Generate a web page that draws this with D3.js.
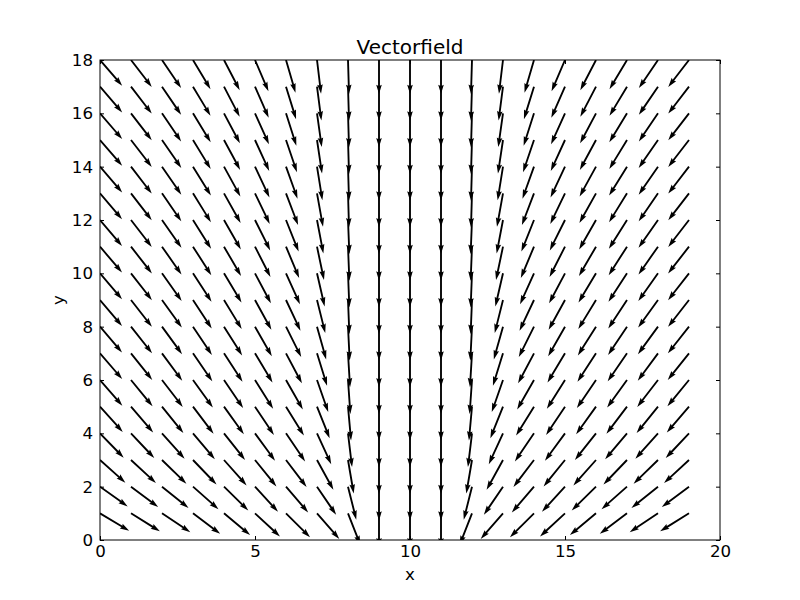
<!DOCTYPE html>
<html>
<head>
<meta charset="utf-8">
<script src="https://cdn.jsdelivr.net/npm/d3@7"></script>
<style>
  html, body { margin: 0; padding: 0; background: #ffffff; }
  svg { display: block; }
  text { font-family: "DejaVu Sans", sans-serif; fill: #000; }
</style>
</head>
<body>
<svg id="chart" width="800" height="600"></svg>
<script>
// ---------------- data ----------------
const chartTitle = "Vectorfield";
const xLabel = "x";
const yLabel = "y";
const xTicks = [0, 5, 10, 15, 20];
const yTicks = [0, 2, 4, 6, 8, 10, 12, 14, 16, 18];

// grid of arrow tails
const gridX = [0,1,2,3,4,5,6,7,8,9,10,11,12,13,14,15,16,17,18,19];
const gridY = [18,17,16,15,14,13,12,11,10,9,8,7,6,5,4,3,2,1];

// direction of every arrow: horizontal / downward ratio (dx/dy), one list per column,
// entries follow gridY (y = 18 ... 1). Positive = pointing right, negative = left.
const slopeCol0  = [.86,.86,.86,.86,.86,.85,.85,.85,.85,.85,.85,.86,.87,.90,.97,1.12,1.40,1.67];
const slopeCol1  = [.77,.77,.77,.77,.77,.77,.77,.78,.78,.78,.79,.80,.82,.86,.94,1.08,1.33,1.61];
const slopeCol2  = [.68,.68,.68,.69,.69,.69,.70,.70,.71,.72,.73,.74,.77,.81,.89,1.03,1.25,1.50];
const slopeCol3  = [.60,.60,.61,.61,.62,.62,.63,.64,.65,.66,.67,.69,.72,.76,.84,.96,1.13,1.33];
const slopeCol4  = [.52,.52,.53,.54,.55,.56,.57,.58,.60,.61,.63,.65,.68,.72,.79,.89,1.02,1.20];
const slopeCol5  = [.43,.44,.45,.46,.47,.48,.50,.51,.53,.55,.57,.60,.63,.67,.73,.81,.92,1.08];
const slopeCol6  = [.29,.31,.32,.34,.36,.38,.40,.42,.45,.47,.50,.53,.57,.62,.68,.76,.86,1.00];
const slopeCol7  = [.12,.13,.14,.15,.16,.18,.19,.21,.23,.25,.28,.31,.35,.40,.46,.55,.68,.87];
const slopeCol8  = [.03,.03,.03,.03,.03,.03,.04,.04,.04,.04,.05,.06,.07,.09,.12,.17,.25,.39];
const slopeCol9  = [0,0,0,0,0,0,0,0,0,0,0,0,0,0,0,0,0,0];
const slopeCol10 = [0,0,0,0,0,0,0,0,0,0,0,0,0,0,0,0,0,0];
const slopeCol11 = [0,0,0,0,0,0,0,0,0,0,0,0,0,0,0,0,0,0];
const slopeCol12 = [-.03,-.03,-.03,-.03,-.03,-.03,-.04,-.04,-.04,-.04,-.05,-.06,-.07,-.09,-.12,-.17,-.25,-.39];
const slopeCol13 = [-.12,-.13,-.14,-.15,-.16,-.18,-.19,-.21,-.23,-.25,-.28,-.31,-.35,-.40,-.46,-.55,-.68,-.87];
const slopeCol14 = [-.29,-.31,-.32,-.34,-.36,-.38,-.40,-.42,-.45,-.47,-.50,-.53,-.57,-.62,-.68,-.76,-.86,-1.00];
const slopeCol15 = [-.43,-.44,-.45,-.46,-.47,-.48,-.50,-.51,-.53,-.55,-.57,-.60,-.63,-.67,-.73,-.81,-.92,-1.08];
const slopeCol16 = [-.52,-.52,-.53,-.54,-.55,-.56,-.57,-.58,-.60,-.61,-.63,-.65,-.68,-.72,-.79,-.89,-1.02,-1.20];
const slopeCol17 = [-.60,-.60,-.61,-.61,-.62,-.62,-.63,-.64,-.65,-.66,-.67,-.69,-.72,-.76,-.84,-.96,-1.13,-1.33];
const slopeCol18 = [-.68,-.68,-.68,-.69,-.69,-.69,-.70,-.70,-.71,-.72,-.73,-.74,-.77,-.81,-.89,-1.03,-1.25,-1.50];
const slopeCol19 = [-.77,-.77,-.77,-.77,-.77,-.77,-.77,-.78,-.78,-.78,-.79,-.80,-.82,-.86,-.94,-1.08,-1.33,-1.61];

const slopes = [slopeCol0, slopeCol1, slopeCol2, slopeCol3, slopeCol4, slopeCol5, slopeCol6,
  slopeCol7, slopeCol8, slopeCol9, slopeCol10, slopeCol11, slopeCol12, slopeCol13, slopeCol14,
  slopeCol15, slopeCol16, slopeCol17, slopeCol18, slopeCol19];

// ---------------- layout / style ----------------
const W = 800, H = 600;
const margin = { left: 100, right: 80, top: 60, bottom: 60 };
const plotW = W - margin.left - margin.right;   // 620
const plotH = H - margin.top - margin.bottom;   // 480
const fontTick = 16.67, fontTitle = 20;

const arrowLen = 34;          // px, all arrows have unit length
const shaftW = 1.86;          // px
const headLen = 5 * shaftW, headAxis = 4.5 * shaftW, headHalf = 1.5 * shaftW;

const svg = d3.select("#chart");
svg.append("rect").attr("width", W).attr("height", H).attr("fill", "#fff");

const x = d3.scaleLinear().domain([0, 20]).range([margin.left, margin.left + plotW]);
const y = d3.scaleLinear().domain([0, 18]).range([margin.top + plotH, margin.top]);

svg.append("defs").append("clipPath").attr("id", "plotclip")
  .append("rect").attr("x", margin.left).attr("y", margin.top)
  .attr("width", plotW).attr("height", plotH);

// arrows
const arrows = [];
gridX.forEach((gx, ci) => {
  gridY.forEach((gy, ri) => {
    const s = slopes[ci][ri];
    const n = Math.sqrt(1 + s * s);
    arrows.push({ x: gx, y: gy, u: s / n, v: -1 / n });
  });
});

const L = arrowLen;
const arrowPath = [
  [0, -shaftW / 2], [L - headAxis, -shaftW / 2], [L - headLen, -headHalf], [L, 0],
  [L - headLen, headHalf], [L - headAxis, shaftW / 2], [0, shaftW / 2]
];
const arrowD = "M" + arrowPath.map(p => p.join(",")).join("L") + "Z";

svg.append("g").attr("clip-path", "url(#plotclip)")
  .selectAll("path").data(arrows).join("path")
  .attr("d", arrowD)
  .attr("fill", "#000")
  .attr("transform", d => {
    const ang = Math.atan2(-d.v, d.u) * 180 / Math.PI; // screen y is downward
    return `translate(${x(d.x)},${y(d.y)}) rotate(${ang})`;
  });

// axes (ticks inside on all four sides, classic style)
const tickLen = 4;
function styleAxis(g) {
  g.select(".domain").remove();
  g.selectAll(".tick line").attr("stroke", "#000").attr("stroke-width", 1);
  g.selectAll(".tick text").attr("font-size", fontTick).attr("font-family", "DejaVu Sans, sans-serif").attr("fill", "#000");
}
svg.append("g").attr("transform", `translate(0,${margin.top + plotH})`)
  .call(d3.axisBottom(x).tickValues(xTicks).tickFormat(d3.format("d")).tickSizeInner(-tickLen).tickSizeOuter(0).tickPadding(5))
  .call(styleAxis);
svg.append("g").attr("transform", `translate(0,${margin.top})`)
  .call(d3.axisTop(x).tickValues(xTicks).tickFormat("").tickSizeInner(-tickLen).tickSizeOuter(0))
  .call(styleAxis);
svg.append("g").attr("transform", `translate(${margin.left},0)`)
  .call(d3.axisLeft(y).tickValues(yTicks).tickFormat(d3.format("d")).tickSizeInner(-tickLen).tickSizeOuter(0).tickPadding(7))
  .call(styleAxis);
svg.append("g").attr("transform", `translate(${margin.left + plotW},0)`)
  .call(d3.axisRight(y).tickValues(yTicks).tickFormat("").tickSizeInner(-tickLen).tickSizeOuter(0))
  .call(styleAxis);

// frame
svg.append("rect").attr("x", margin.left).attr("y", margin.top)
  .attr("width", plotW).attr("height", plotH)
  .attr("fill", "none").attr("stroke", "#000").attr("stroke-width", 1);

// title and labels
svg.append("text").attr("x", margin.left + plotW / 2).attr("y", 54)
  .attr("text-anchor", "middle").attr("font-size", fontTitle).text(chartTitle);
svg.append("text").attr("x", margin.left + plotW / 2).attr("y", 580)
  .attr("text-anchor", "middle").attr("font-size", fontTick).text(xLabel);
svg.append("text").attr("transform", `translate(64,${margin.top + plotH / 2}) rotate(-90)`)
  .attr("text-anchor", "middle").attr("font-size", fontTick).text(yLabel);
</script>
</body>
</html>
